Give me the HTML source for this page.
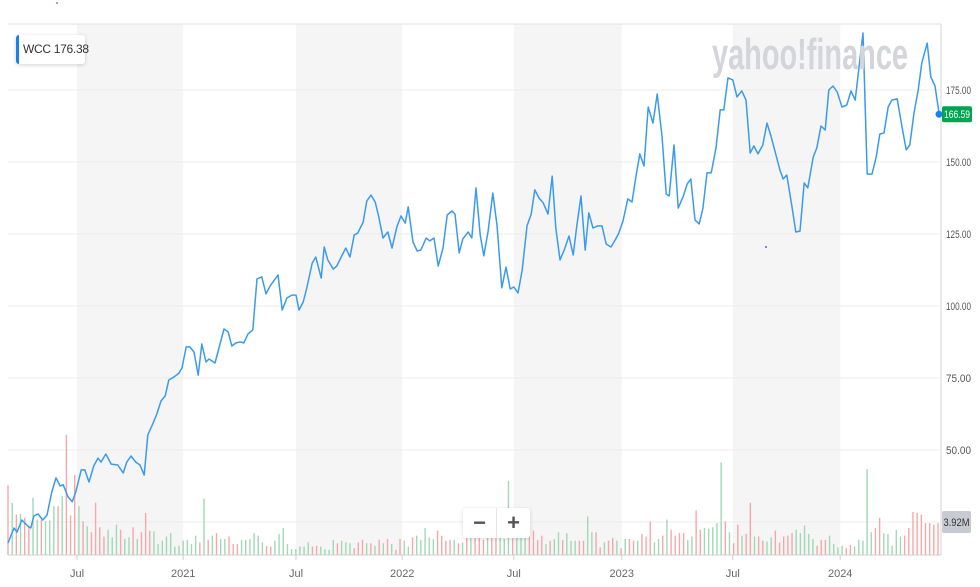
<!DOCTYPE html>
<html><head><meta charset="utf-8"><style>
html,body{margin:0;padding:0;background:#fff;}
svg{display:block;font-family:"Liberation Sans",sans-serif;}
</style></head><body>
<svg id="chart" width="980" height="587" viewBox="0 0 980 587" xmlns="http://www.w3.org/2000/svg">
<g id="bands"></g><g id="grid"></g><g id="vol"></g><g id="line"></g><g id="axes"></g><g id="overlay"></g>
</svg>
<script>
// price data: day offset from 2020-03-14, closing price
const priceDays=[0,10,15,23,33,38,43,50,58,65,73,80,87,92,100,107,113,122,128,135,143,150,155,163,172,183,192,198,205,213,220,227,233,242,248,255,262,268,277,285,290,297,303,310,317,323,330,335,345,360,367,373,380,387,393,400,408,415,423,430,437,450,457,465,473,480,485,492,498,507,513,522,527,533,542,548,557,563,570,577,583,592,598,605,612,618,625,633,640,648,655,662,667,675,682,688,697,703,710,717,725,732,740,745,752,758,767,773,780,787,793,800,808,815,823,830,837,843,850,857,865,872,878,885,892,900,907,913,920,927,935,942,948,955,962,968,975,983,990,997,1005,1012,1018,1025,1033,1040,1047,1053,1060,1067,1075,1082,1090,1097,1102,1110,1117,1125,1132,1138,1145,1152,1158,1165,1172,1180,1187,1193,1200,1208,1215,1223,1230,1237,1243,1250,1258,1265,1272,1280,1287,1292,1298,1307,1313,1320,1327,1333,1342,1348,1355,1362,1368,1375,1382,1390,1398,1405,1412,1425,1432,1440,1447,1453,1460,1467,1473,1482,1490,1497,1503,1510,1517,1523,1532,1538,1545,1552];
const prices=[17.7,22.9,21.5,25.7,23.6,22.9,27.1,27.8,25.7,27.4,35.4,40.3,37.5,37.9,33.7,32.0,35.4,43.1,43.1,38.9,44.5,47.2,45.8,48.6,45.1,44.8,42.0,45.8,47.9,45.8,44.8,41.3,55.2,59.4,62.5,67.0,68.8,74.3,75.4,76.7,78.5,85.8,85.8,84.0,76.0,86.8,80.6,81.6,80.2,92.0,91.0,86.1,87.2,87.5,87.2,90.3,91.7,109.4,110.1,104.2,107.0,110.8,98.6,102.8,103.8,103.8,98.6,101.4,106.3,114.9,117.0,109.7,120.5,116.0,112.8,113.9,117.7,120.1,117.0,124.7,125.3,129.2,136.5,138.5,136.1,130.9,123.6,125.7,120.1,127.4,131.3,128.8,134.4,122.2,119.1,119.4,123.6,122.6,123.6,113.9,120.1,131.6,133.0,131.9,118.4,123.3,125.7,123.6,141.0,124.7,117.4,125.7,139.2,128.1,106.3,113.5,105.9,106.6,104.5,112.5,127.8,131.9,140.3,137.5,135.8,131.9,145.1,127.1,116.0,119.4,124.3,117.7,127.8,138.2,119.4,132.3,127.1,127.8,127.8,121.5,120.5,122.9,125.3,129.5,137.2,136.1,145.5,152.8,148.6,169.1,163.5,173.6,159.0,138.9,138.2,155.9,134.0,137.8,142.4,144.1,129.9,128.5,133.7,146.2,146.2,154.9,168.1,168.1,179.2,178.5,172.6,174.7,171.5,153.1,155.6,152.8,155.9,163.5,158.7,152.4,146.9,144.1,145.5,134.0,125.7,126.0,142.7,141.0,151.7,154.9,162.5,161.1,175.0,176.4,174.3,169.1,169.8,174.7,171.5,194.8,145.8,145.8,151.7,159.7,160.1,169.1,171.5,171.9,162.2,154.2,155.9,167.0,175.0,184.4,191.3,179.5,176.4,166.6];
// weekly volume in millions and direction (g=up, r=down)
const volumes=[8.3,6.2,4.8,4.9,4.4,3.4,6.8,4.2,4.2,4.0,4.1,5.8,5.8,7.0,14.3,4.7,9.5,5.8,4.0,3.4,2.7,6.2,3.3,2.2,3.0,2.1,3.6,3.0,1.9,2.1,3.3,1.9,2.7,5.0,2.9,2.8,1.3,1.7,2.2,2.6,1.0,1.1,1.7,1.8,1.3,2.3,1.5,6.7,1.8,2.3,2.6,1.9,1.9,2.2,1.3,1.3,1.8,1.8,1.9,2.6,2.3,1.5,1.1,1.0,1.7,2.5,3.2,1.3,0.7,0.7,1.0,1.0,1.5,1.0,1.1,1.0,0.7,0.6,1.8,1.4,1.7,1.5,1.4,0.8,1.5,1.8,1.4,1.4,1.1,1.8,1.4,1.9,1.3,0.6,1.9,1.7,1.0,2.1,2.3,1.8,3.2,2.1,1.9,2.9,2.3,1.7,1.8,1.8,1.4,1.5,2.0,2.0,2.0,2.3,1.8,2.5,2.1,2.0,2.4,1.9,8.8,2.0,2.6,2.2,2.0,2.4,2.9,1.8,2.3,1.3,1.7,1.9,2.7,1.8,2.6,1.7,1.7,1.7,1.7,4.6,2.7,2.7,0.9,1.5,1.7,2.0,1.7,0.8,1.9,1.9,1.7,1.7,2.5,2.2,4.0,1.5,1.9,2.3,4.2,3.0,2.3,2.6,2.6,1.8,2.2,5.3,3.0,3.2,3.1,3.3,3.8,11.0,4.0,2.7,1.4,3.6,2.3,2.5,6.2,2.2,2.2,1.7,1.6,2.1,2.9,1.5,2.2,2.3,2.6,3.0,2.6,3.5,2.5,1.9,1.1,1.8,1.8,2.3,1.3,0.9,1.1,0.8,1.2,1.0,1.8,1.7,10.2,2.7,3.2,4.4,2.6,2.5,1.1,3.0,2.2,2.3,3.2,5.1,5.0,4.8,3.8,3.8,3.6,3.8];
const volDir=[
"rgrgrrggrgggrgrrrgrgrrrrgggrggrgrrrgggggggggggrgrgrggrrrggggggrrgggggggggrrggggrgggrrrgrgrgrgrrggrgggggrrrr",
"grgrgrrrgrrgggrgg",
"grrrrgrggrgggrrggrrgrrgrgrrgrrrggrgrrrrggrrgggggrgrrgrrgrrggrrrrrgggggrrrggggrrgggggrrgggggrrr"].join('').split('');
const yTicks=[50,75,100,125,150,175];
const xTickDays=[115,292,480,657,843,1023,1208,1387];
const xTickLabels=["Jul","2021","Jul","2022","Jul","2023","Jul","2024"];
const lastPrice="166.59", volLabel="3.92M", volLabelValue=3.92;

const NS="http://www.w3.org/2000/svg";
const L=8,R=941,TOP=24,BASE=555;
const xDay=d=>L+d*0.6;
const yPrice=v=>90+(175-v)*2.88;
const yVol=m=>BASE-m*8.42;
function mk(tag,attrs,parent){const e=document.createElementNS(NS,tag);for(const k in attrs)e.setAttribute(k,attrs[k]);parent.appendChild(e);return e;}
const bands=document.getElementById('bands'),grid=document.getElementById('grid'),vol=document.getElementById('vol'),line=document.getElementById('line'),axes=document.getElementById('axes'),ov=document.getElementById('overlay');

for(let i=0;i<xTickDays.length;i+=2){
  const r=mk('rect',{x:xDay(xTickDays[i]),y:TOP,width:xDay(xTickDays[i+1])-xDay(xTickDays[i]),height:BASE-TOP,fill:'#f5f5f5'},bands);
  
  
}
const tl=mk('line',{x1:L,x2:R,y1:TOP,y2:TOP,stroke:'#e8eaee','stroke-width':1.5},grid);


yTicks.forEach(v=>{
  const g=mk('line',{x1:L,x2:R,y1:yPrice(v),y2:yPrice(v),stroke:'#ececec','stroke-width':1},grid);
  
  
  const t=mk('text',{x:946,y:yPrice(v)+4,'font-size':11,fill:'#555',textLength:25,lengthAdjust:'spacingAndGlyphs'},axes);
  t.textContent=v.toFixed(2);
  
  
});
const vg=mk('line',{x1:L,x2:R,y1:yVol(volLabelValue),y2:yVol(volLabelValue),stroke:'#ececec','stroke-width':1},grid);



const n=volumes.length, step=(938-L)/(n-1);
volumes.forEach((m,i)=>{
  const x=L+i*step;
  const b=mk('rect',{x:x-0.7,y:yVol(m),width:1.4,height:m*8.42,fill:volDir[i]==='g'?'#9fd9b5':'#f7a7a7'},vol);
  
  
});

const pts=priceDays.map((d,i)=>xDay(d).toFixed(1)+','+yPrice(prices[i]).toFixed(1)).join(' ');
const pl=mk('polyline',{points:pts,fill:'none',stroke:'#3a9af0','stroke-width':1.5,'stroke-linejoin':'round'},line);



const ax=mk('line',{x1:R,x2:R,y1:TOP,y2:BASE,stroke:'#d6d6d6','stroke-width':1},axes);


const bx=mk('line',{x1:L,x2:R,y1:BASE,y2:BASE,stroke:'#cfcfcf','stroke-width':1},axes);


xTickDays.forEach((d,i)=>{
  const x=xDay(d);
  const tk=mk('line',{x1:x,x2:x,y1:BASE,y2:BASE+5,stroke:'#cfcfcf'},axes);
  
  
  const t=mk('text',{x:x,y:577,'font-size':11,fill:'#666','text-anchor':'middle'},axes);
  t.textContent=xTickLabels[i];
  
  
});

const wm=mk('text',{x:712,y:69,'font-size':44,'font-weight':'bold',fill:'#d3d5da',textLength:196,lengthAdjust:'spacingAndGlyphs'},ov);
wm.textContent='yahoo!finance';



const lp=prices[prices.length-1], ly=yPrice(lp);
const dot=mk('circle',{cx:R-2,cy:ly,r:3.5,fill:'#1a7ff0'},ov);


const pb=mk('rect',{x:R+1,y:ly-8,width:30,height:16,rx:2,fill:'#00a451'},ov);


const pt=mk('text',{x:R+16,y:ly+4,'font-size':11,fill:'#fff','text-anchor':'middle',textLength:26,lengthAdjust:'spacingAndGlyphs'},ov);
pt.textContent=lastPrice;



const vy=yVol(volLabelValue);
const vb=mk('rect',{x:R+1,y:vy-11,width:29,height:22,rx:2,fill:'#c7cbd1'},ov);


const vt=mk('text',{x:R+15.5,y:vy+4,'font-size':11,fill:'#333','text-anchor':'middle',textLength:26,lengthAdjust:'spacingAndGlyphs'},ov);
vt.textContent=volLabel;



const d1=mk('circle',{cx:57,cy:3,r:0.8,fill:'#2233ee'},ov);


const d2=mk('circle',{cx:766,cy:247,r:0.9,fill:'#2233ee'},ov);


</script>
<div style="position:absolute;left:16px;top:35px;width:69px;height:29px;background:#fff;border-radius:3px;box-shadow:0 1px 4px rgba(0,0,0,0.18);font-family:'Liberation Sans',sans-serif;font-size:12px;color:#333;line-height:29px;white-space:nowrap;">
<div style="position:absolute;left:0;top:0;width:3px;height:29px;background:#1a7ff0;border-radius:3px 0 0 3px;"></div>
<span style="position:absolute;left:7px;top:0;letter-spacing:-0.3px;">WCC 176.38</span>
</div>
<div style="position:absolute;left:463px;top:508px;width:67px;height:30px;background:#fff;border-radius:3px;box-shadow:0 1px 4px rgba(0,0,0,0.15);font-family:'Liberation Sans',sans-serif;">
<div style="position:absolute;left:0;top:0;width:33px;height:30px;text-align:center;line-height:30px;font-size:22px;font-weight:bold;color:#555;border-right:1px solid #e6e6e6;">−</div>
<div style="position:absolute;left:34px;top:0;width:33px;height:30px;text-align:center;line-height:30px;font-size:22px;font-weight:bold;color:#555;">+</div>
</div>
</body></html>
